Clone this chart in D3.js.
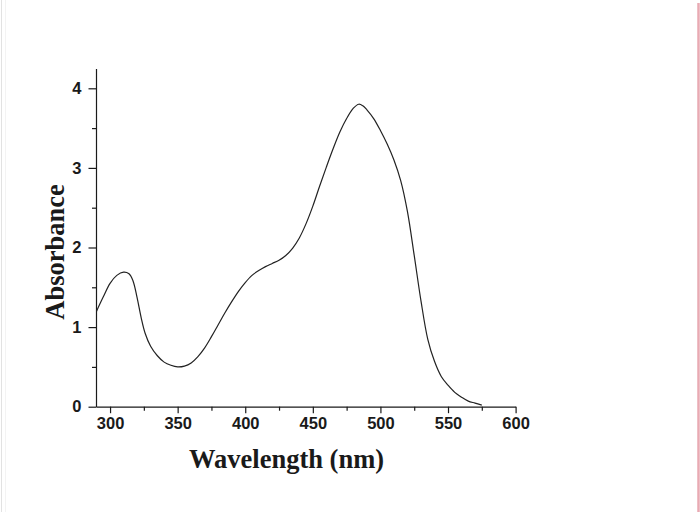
<!DOCTYPE html>
<html>
<head>
<meta charset="utf-8">
<script src="https://cdn.jsdelivr.net/npm/d3@7"></script>
<style>
  html, body { margin: 0; padding: 0; background: #fff; }
  svg { display: block; }
</style>
</head>
<body>
<svg id="chart" width="700" height="512"></svg>
<script>
// ---- data ----
const wavelength = [290, 295, 300, 305, 310, 314, 317, 320, 323, 326, 330, 335, 340, 345, 350, 355, 360, 365, 370, 375,
  380, 385, 390, 395, 400, 405, 410, 415, 420, 425, 430, 435, 440, 445, 450, 455, 460, 465, 470, 475,
  480, 484, 487, 490, 495, 500, 505, 510, 515, 520, 525, 530, 535, 540, 545, 550, 555, 560, 565, 570, 575];
const absorbance = [1.20, 1.38, 1.55, 1.65, 1.69, 1.67, 1.58, 1.37, 1.12, 0.92, 0.76, 0.64, 0.56, 0.52, 0.50, 0.51, 0.55, 0.63, 0.74, 0.88,
  1.03, 1.18, 1.32, 1.45, 1.56, 1.65, 1.71, 1.76, 1.80, 1.84, 1.90, 1.99, 2.12, 2.30, 2.52, 2.77, 3.01, 3.24, 3.45, 3.62,
  3.75, 3.80, 3.78, 3.73, 3.62, 3.47, 3.30, 3.10, 2.84, 2.45, 1.90, 1.33, 0.85, 0.57, 0.38, 0.27, 0.18, 0.12, 0.07, 0.045, 0.02];
const xMajorTicks = [300, 350, 400, 450, 500, 550, 600];
const xMinorTicks = [325, 375, 425, 475, 525, 575];
const yMajorTicks = [0, 1, 2, 3, 4];
const yMinorTicks = [0.5, 1.5, 2.5, 3.5];
const xTitle = "Wavelength (nm)";
const yTitle = "Absorbance";

// ---- layout ----
const svg = d3.select("#chart");
const x = d3.scaleLinear().domain([289.6, 600]).range([96, 515.6]);
const y = d3.scaleLinear().domain([0, 4.25]).range([406.7, 68.4]);

const tickFont = "bold 16.5px 'Liberation Sans', Arial, sans-serif";
const titleFont = "bold 26.5px 'Liberation Serif', 'Times New Roman', serif";
const ink = "#1a1a1a";

// frame edges
svg.append("line").attr("x1", 1.5).attr("x2", 1.5).attr("y1", 0).attr("y2", 512)
  .attr("stroke", "#e2e2e2").attr("stroke-width", 1);
svg.append("line").attr("x1", 5.5).attr("x2", 5.5).attr("y1", 0).attr("y2", 512)
  .attr("stroke", "#f3f3f3").attr("stroke-width", 1);
svg.append("line").attr("x1", 698.5).attr("x2", 698.5).attr("y1", 3).attr("y2", 512)
  .attr("stroke", "#e9aab3").attr("stroke-width", 2.5);

// x axis
const gx = svg.append("g").attr("transform", `translate(0,${y(0)})`);
gx.call(d3.axisBottom(x).tickValues(xMajorTicks).tickSize(6.5).tickSizeOuter(0).tickPadding(4).tickFormat(d3.format("d")));
gx.append("g").call(d3.axisBottom(x).tickValues(xMinorTicks).tickSize(4).tickSizeOuter(0).tickFormat(""))
  .select(".domain").remove();

// y axis
const gy = svg.append("g").attr("transform", `translate(${x.range()[0]},0)`);
gy.call(d3.axisLeft(y).tickValues(yMajorTicks).tickSize(7.5).tickSizeOuter(0).tickPadding(7).tickFormat(d3.format("d")));
gy.append("g").call(d3.axisLeft(y).tickValues(yMinorTicks).tickSize(4).tickSizeOuter(0).tickFormat(""))
  .select(".domain").remove();

svg.selectAll(".domain").attr("stroke", ink).attr("stroke-width", 1.2);
svg.selectAll(".tick line").attr("stroke", ink).attr("stroke-width", 1.2);
svg.selectAll(".tick text").style("font", tickFont).attr("fill", ink);

// curve
const data = wavelength.map((w, i) => ({ w, a: absorbance[i] }));
svg.append("path")
  .datum(data)
  .attr("fill", "none")
  .attr("stroke", "#222")
  .attr("stroke-width", 1.2)
  .attr("d", d3.line().x(d => x(d.w)).y(d => y(d.a)).curve(d3.curveCatmullRom.alpha(0.5)));

// titles
svg.append("text")
  .attr("x", 286.5).attr("y", 468)
  .attr("text-anchor", "middle")
  .style("font", titleFont).attr("fill", ink)
  .text(xTitle);
svg.append("text")
  .attr("transform", "translate(64,252) rotate(-90)")
  .attr("text-anchor", "middle")
  .style("font", titleFont).attr("fill", ink)
  .text(yTitle);
</script>
</body>
</html>
